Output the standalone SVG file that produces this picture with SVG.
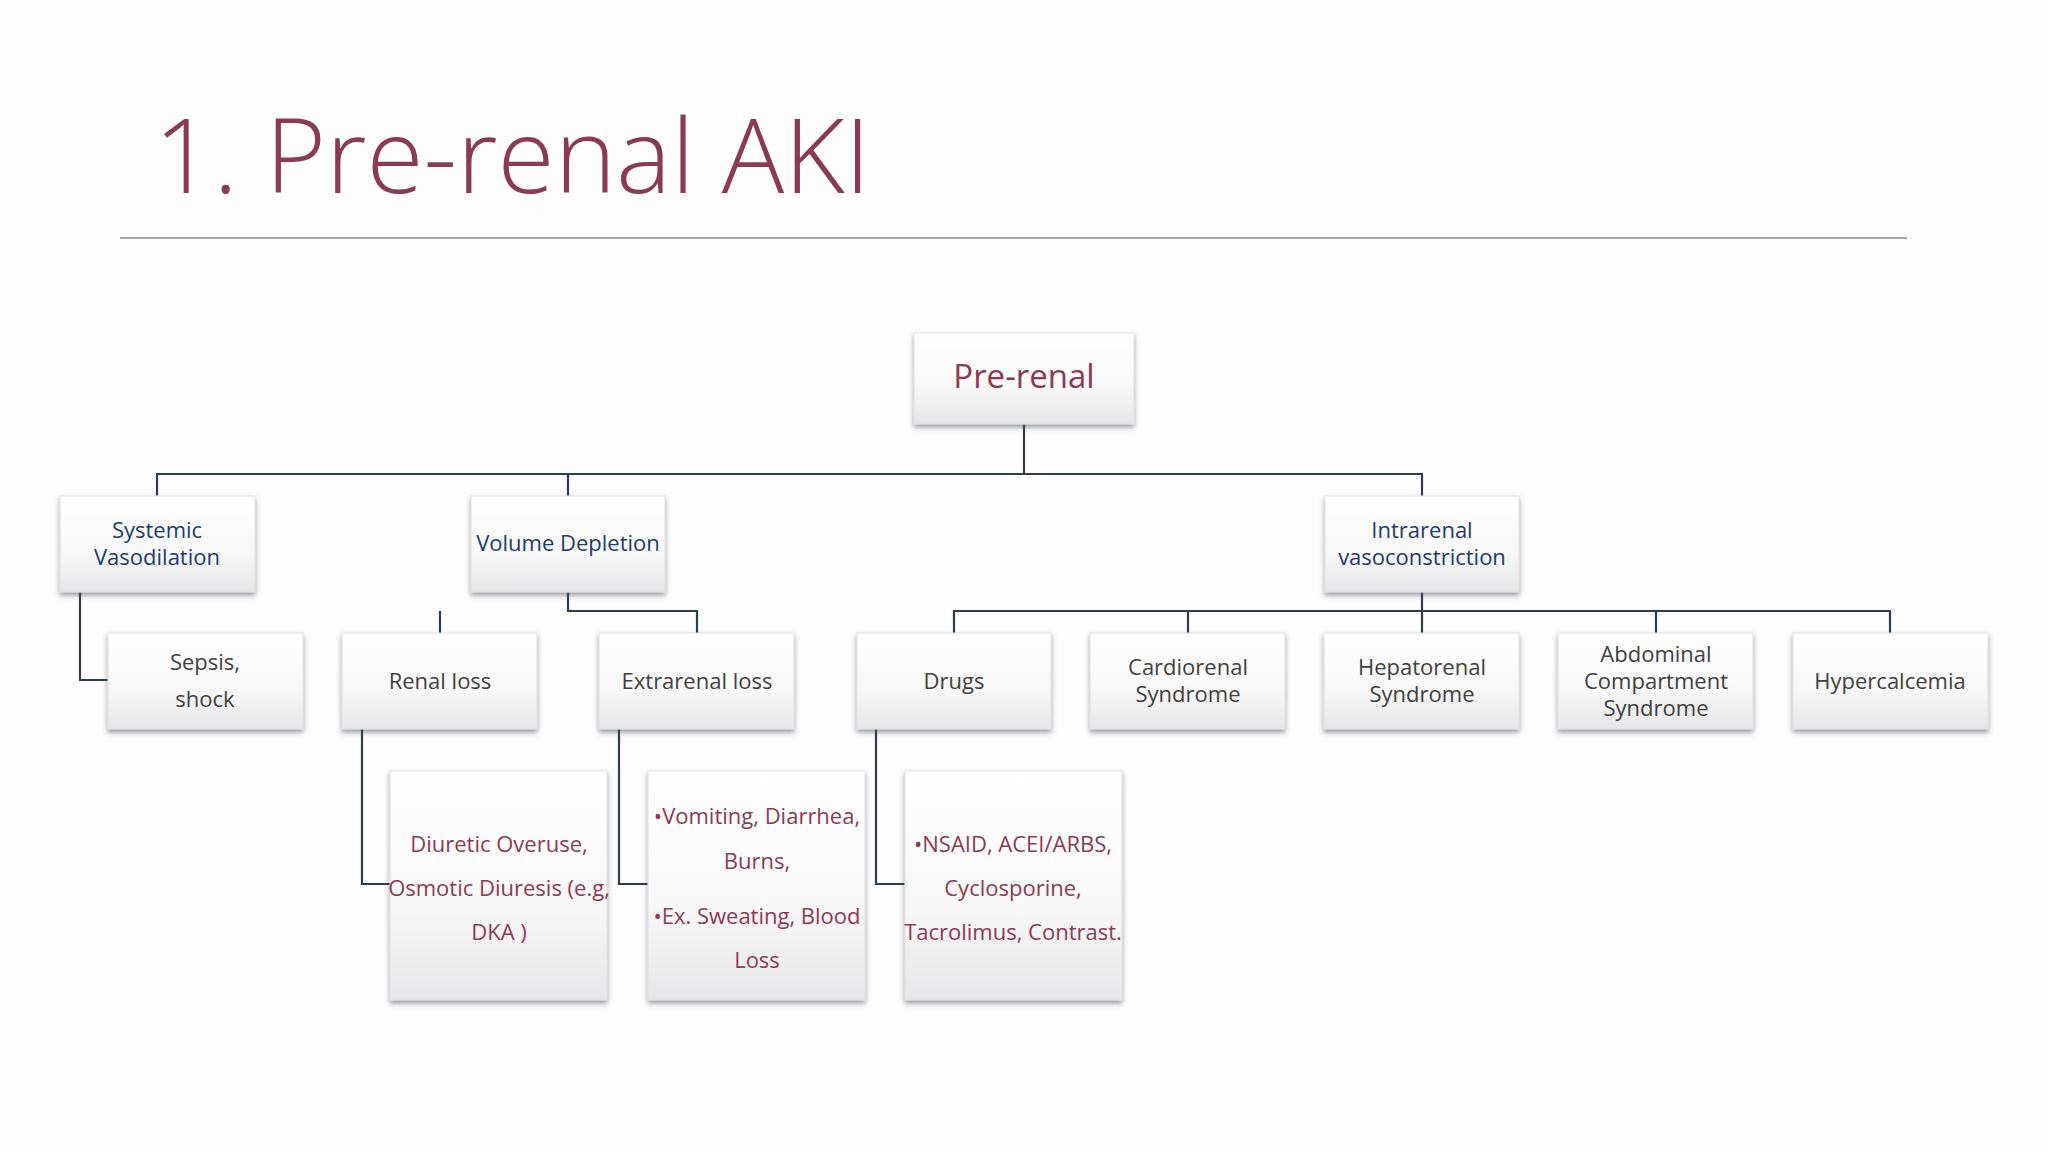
<svg xmlns="http://www.w3.org/2000/svg" width="2048" height="1152" viewBox="0 0 2048 1152">
<defs>
<linearGradient id="g" x1="0" y1="0" x2="0" y2="1"><stop offset="0" stop-color="#ffffff"/><stop offset="0.6" stop-color="#f7f7f7"/><stop offset="1" stop-color="#e6e6e8"/></linearGradient>
<filter id="sh" x="-10%" y="-10%" width="120%" height="130%"><feDropShadow dx="0" dy="3" stdDeviation="2.5" flood-color="#4a4e5a" flood-opacity="0.55"/></filter>
</defs>
<style>
.b{fill:url(#g);stroke:#e0e0e0;stroke-width:1;filter:url(#sh)}
text{font-family:"Open Sans","Noto Sans","Liberation Sans",sans-serif;text-anchor:middle}
.l1{fill:#1f3b6e;font-size:22px}
.l2{fill:#404040;font-size:22px}
.l3{fill:#8b3a55;font-size:22px}
.c{fill:none;stroke:#2f3d50;stroke-width:2.2}
</style>
<rect width="2048" height="1152" fill="#fdfdfd"/>
<text x="154" y="193" style="font-size:104px;fill:#8b3a55;text-anchor:start;font-family:'Open Sans','Noto Sans',sans-serif;font-weight:300">1. Pre-renal AKI</text>
<line x1="120" y1="238" x2="1907" y2="238" stroke="#8a8a8a" stroke-width="1.5"/>
<g id="connectors">
<path class="c" d="M1024 424V474M157 496V474H1422V496M568 474V496"/>
<path class="c" d="M80 592V680H108"/>
<path class="c" d="M568 592V611H697V633M440 611V633"/>
<path class="c" d="M1422 592V611M954 633V611H1890V633M1188 611V633M1422 611V633M1656 611V633"/>
<path class="c" d="M362 729V884H390M619 729V884H648M876 729V884H905"/>
</g>
<g id="prerenal"><rect class="b" x="914" y="333" width="220" height="91"/><text x="1024" y="388" style="font-size:33px;fill:#8b3a55">Pre-renal</text></g>
<g id="systemic"><rect class="b" x="60" y="496" width="195" height="96"/><text class="l1" x="157" y="538">Systemic</text><text class="l1" x="157" y="565">Vasodilation</text></g>
<g id="volume"><rect class="b" x="471" y="496" width="194" height="96"/><text class="l1" x="568" y="551">Volume Depletion</text></g>
<g id="intrarenal"><rect class="b" x="1325" y="496" width="194" height="96"/><text class="l1" x="1422" y="538">Intrarenal</text><text class="l1" x="1422" y="565">vasoconstriction</text></g>
<g id="sepsis"><rect class="b" x="108" y="633" width="195" height="96"/><text class="l2" x="205" y="670">Sepsis,</text><text class="l2" x="205" y="707">shock</text></g>
<g id="renal"><rect class="b" x="342" y="633" width="195" height="96"/><text class="l2" x="440" y="689">Renal loss</text></g>
<g id="extrarenal"><rect class="b" x="599" y="633" width="195" height="96"/><text class="l2" x="697" y="689">Extrarenal loss</text></g>
<g id="drugs"><rect class="b" x="857" y="633" width="194" height="96"/><text class="l2" x="954" y="689">Drugs</text></g>
<g id="cardio"><rect class="b" x="1090" y="633" width="195" height="96"/><text class="l2" x="1188" y="675">Cardiorenal</text><text class="l2" x="1188" y="702">Syndrome</text></g>
<g id="hepato"><rect class="b" x="1324" y="633" width="195" height="96"/><text class="l2" x="1422" y="675">Hepatorenal</text><text class="l2" x="1422" y="702">Syndrome</text></g>
<g id="abdominal"><rect class="b" x="1558" y="633" width="195" height="96"/><text class="l2" x="1656" y="662">Abdominal</text><text class="l2" x="1656" y="689">Compartment</text><text class="l2" x="1656" y="716">Syndrome</text></g>
<g id="hyper"><rect class="b" x="1793" y="633" width="195" height="96"/><text class="l2" x="1890" y="689">Hypercalcemia</text></g>
<g id="diuretic"><rect class="b" x="390" y="771" width="217" height="229"/><text class="l3" x="499" y="852">Diuretic Overuse,</text><text class="l3" x="499" y="896">Osmotic Diuresis (e.g,</text><text class="l3" x="499" y="940">DKA )</text></g>
<g id="vomiting"><rect class="b" x="648" y="771" width="217" height="229"/><text class="l3" x="757" y="824">•Vomiting, Diarrhea,</text><text class="l3" x="757" y="869">Burns,</text><text class="l3" x="757" y="924">•Ex. Sweating, Blood</text><text class="l3" x="757" y="968">Loss</text></g>
<g id="nsaid"><rect class="b" x="905" y="771" width="217" height="229"/><text class="l3" x="1013" y="852">•NSAID, ACEI/ARBS,</text><text class="l3" x="1013" y="896">Cyclosporine,</text><text class="l3" x="1013" y="940">Tacrolimus, Contrast.</text></g>
</svg>
